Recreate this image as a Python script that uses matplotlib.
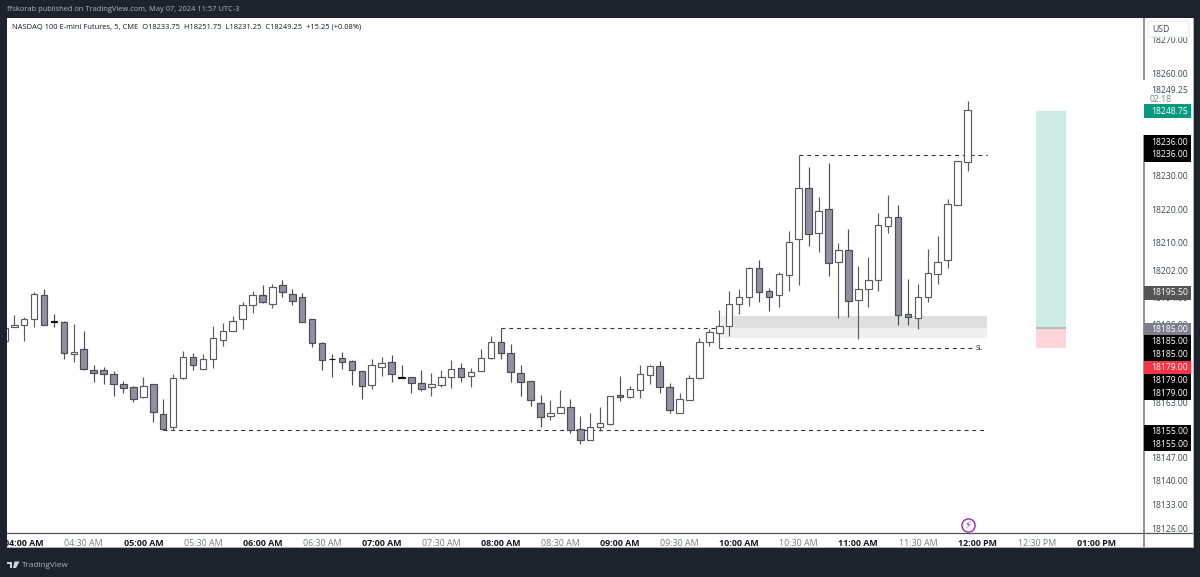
import matplotlib
matplotlib.use('Agg')
import matplotlib.pyplot as plt
from matplotlib.patches import Rectangle, FancyBboxPatch, Polygon

opens = [18181.25, 18185.25, 18186, 18187.75, 18194.75, 18187, 18186.75, 18177.25, 18178.75, 18172.75,
         18172.5, 18171.5, 18168.5, 18167.5, 18164.75, 18168.5, 18159.75, 18156, 18170.25, 18176.5,
         18173, 18175.75, 18181.5, 18184.25, 18187.5, 18191.75, 18194.75, 18192, 18197.5, 18195,
         18194, 18187.5, 18180.5, 18176, 18176.25, 18175.25, 18172.25, 18168.25, 18173.5, 18175,
         18170.5, 18170.5, 18168.75, 18167.5, 18168.25, 18170.5, 18173.25, 18170.75, 18172.25, 18176.25,
         18181, 18177.75, 18171.75, 18169.5, 18163, 18159.25, 18160, 18161.75, 18155.25, 18152,
         18156, 18156.75, 18165.25, 18164.75, 18166.75, 18171.25, 18173.75, 18167.5, 18160, 18163.75,
         18170.25, 18181, 18183.5, 18185.5, 18192, 18194.25, 18202.5, 18195.75, 18194.75, 18200.5,
         18211.25, 18226.25, 18213, 18220, 18204.5, 18208, 18193.25, 18196.5, 18199.25, 18215,
         18217.75, 18189, 18188, 18194, 18200.75, 18205, 18221.25, 18233.75]
highs = [18185, 18188.75, 18188.25, 18195.5, 18196.5, 18189.25, 18187, 18186.25, 18184.25, 18174,
         18173.5, 18172.25, 18169.5, 18168, 18170.5, 18168.5, 18164.25, 18171.5, 18178.25, 18177.75,
         18177.25, 18185.5, 18186.5, 18188.5, 18192.5, 18195.75, 18197.5, 18198, 18199, 18196.5,
         18195.25, 18187.5, 18181, 18177.25, 18178, 18175.5, 18172.25, 18176, 18176.5, 18177,
         18174.25, 18170.5, 18172.5, 18171.75, 18172.5, 18175.5, 18174.75, 18173.25, 18178.75, 18182.75,
         18185, 18180.25, 18174.25, 18169.5, 18165.25, 18163.75, 18166.75, 18164.25, 18159, 18160,
         18161.75, 18165, 18170.75, 18168, 18174, 18174, 18175.25, 18168.75, 18166, 18171.25,
         18182, 18184.75, 18190.25, 18196, 18196.5, 18203, 18205, 18196.75, 18201.5, 18213.5,
         18236, 18232.5, 18223.5, 18233.5, 18210, 18214, 18203.25, 18205.75, 18218.75, 18224.25,
         18221.25, 18199.5, 18198, 18208.25, 18212, 18223, 18234.25, 18251.75]
lows = [18181.25, 18185.25, 18181.25, 18185.25, 18186, 18185.25, 18175.75, 18175, 18172.5, 18169.25,
        18168.5, 18165, 18165.75, 18163.25, 18164.5, 18157.25, 18155, 18155, 18170, 18172.5,
        18173, 18173.25, 18179.75, 18184, 18184.75, 18189.5, 18192.25, 18190.75, 18194.25, 18191.75,
        18186.75, 18179.5, 18172.5, 18170.5, 18173, 18168.25, 18164, 18167, 18171, 18169.25,
        18170.25, 18165.75, 18166.5, 18165, 18167.75, 18167.25, 18169, 18167.5, 18172.25, 18176,
        18175.75, 18169.25, 18165, 18162, 18156, 18158, 18160, 18154, 18150.75, 18152,
        18154.75, 18156.5, 18163.5, 18164.5, 18164.5, 18168.5, 18165.75, 18160, 18160, 18163.75,
        18170, 18179.75, 18179, 18182.5, 18189, 18191.5, 18192.5, 18190, 18191.25, 18196,
        18197.5, 18209, 18207.25, 18200.25, 18188, 18188.25, 18181.75, 18191.25, 18195.75, 18213,
        18186, 18186, 18184.75, 18192.75, 18198, 18202.75, 18221.25, 18231.25]
closes = [18185, 18186, 18187.75, 18195, 18186, 18186.75, 18177.75, 18178, 18173, 18171.75,
          18171.5, 18168.5, 18167.25, 18164, 18168, 18160.25, 18155.25, 18170.25, 18176.5, 18174,
          18176, 18182, 18184.25, 18187, 18191.75, 18194.75, 18192.5, 18197, 18195.5, 18193,
          18186.75, 18180.5, 18175.5, 18175.75, 18175, 18172.5, 18168, 18174.25, 18174.75, 18171.5,
          18170.25, 18168.75, 18167, 18168.5, 18170.5, 18173, 18170.5, 18172, 18176.25, 18181,
          18177.75, 18172, 18169, 18163.75, 18158.75, 18160, 18161.75, 18155, 18152, 18156,
          18157, 18165, 18164.75, 18167, 18171.5, 18173.75, 18167.75, 18160.75, 18164.25, 18170.25,
          18181, 18183.75, 18185.5, 18192, 18194, 18202.5, 18195.5, 18194.25, 18200.75, 18210.25,
          18226.25, 18212.5, 18219.5, 18204.25, 18208, 18193, 18196.5, 18199, 18215.25, 18217.75,
          18188.75, 18188.25, 18194, 18201.25, 18204.5, 18221.5, 18234.25, 18249.25]

# axis labels
time_pos = [2, 8, 14, 20, 26, 32, 38, 44, 50, 56, 62, 68, 74, 80, 86, 92, 98, 104, 110]
time_labels = ['04:00 AM', '04:30 AM', '05:00 AM', '05:30 AM', '06:00 AM', '06:30 AM', '07:00 AM',
               '07:30 AM', '08:00 AM', '08:30 AM', '09:00 AM', '09:30 AM', '10:00 AM', '10:30 AM',
               '11:00 AM', '11:30 AM', '12:00 PM', '12:30 PM', '01:00 PM']
price_ticks = [18270, 18260, 18230, 18220, 18210, 18202, 18194, 18186, 18163, 18147, 18140, 18133, 18126]

# price tags on the scale: text, where it sits, fill
tag_texts = ['18248.75', '18236.00', '18236.00', '18195.50', '18185.00', '18185.00', '18185.00',
             '18179.00', '18179.00', '18179.00', '18155.00', '18155.00']
tag_pos = [18248.8, 18239.7, 18235.9, 18195.3, 18184.6, 18180.9, 18177.1,
           18173.4, 18169.6, 18165.7, 18154.5, 18150.7]
tag_fill = ['#089981', '#000000', '#000000', '#555555', '#7d808c', '#000000', '#000000',
            '#f23645', '#000000', '#000000', '#000000', '#000000']

# levels drawn on the chart
level_low = 18155
level_mid = 18185
level_high = 18236
level_sl = 18179
zone_top = 18188.6
zone_bottom = 18182
target = 18248.75

FS = 6.2
DARK = '#1e222d'
W, H = 1200, 577

plt.rcParams['font.family'] = ['Open Sans', 'DejaVu Sans']

fig = plt.figure(figsize=(W / 100, H / 100), dpi=100, facecolor='white')
ax = fig.add_axes([7 / W, 1 - 533 / H, 1137 / W, 515 / H])
ax.set_xlim(0.27, 114.77)
ax.set_ylim(18124.7, 18276.18)


def fx(x):
    return x / W


def fy(y):
    return 1 - y / H


# grey zone
ax.add_patch(Rectangle((72.2, zone_bottom), 98.96 - 72.2, zone_top - zone_bottom, fc='#efefef', ec='none', zorder=1))
ax.add_patch(Rectangle((73.45, level_mid), 98.96 - 73.45, zone_top - level_mid, fc='#e0dfe0', ec='none', zorder=1.1))

# dashed levels
dash = dict(color='#333333', lw=0.8, ls=(0, (3.5, 3.5)), zorder=2)
ax.plot([16, 98.96], [level_low, level_low], **dash)
ax.plot([50, 72], [level_mid, level_mid], **dash)
ax.plot([80, 98.96], [level_high, level_high], **dash)
ax.plot([72, 97.4], [level_sl, level_sl], **dash)
ax.text(98.2, level_sl, 'SL', fontsize=5, color='#333333', ha='center', va='center')

# long position box
ax.add_patch(Rectangle((103.9, level_mid), 3.05, target - level_mid, fc='#cfebe6', ec='none', zorder=1))
ax.add_patch(Rectangle((103.9, level_sl), 3.05, level_mid - level_sl, fc='#fdd5da', ec='none', zorder=1))
ax.plot([103.9, 106.95], [level_mid, level_mid], color='#a9b5b5', lw=1.2, zorder=1.5, solid_capstyle='butt')

# candles
for i, (o, h, l, c) in enumerate(zip(opens, highs, lows, closes)):
    up = c >= o
    edge = '#5c5c5c' if up else '#4c4c54'
    ax.plot([i, i], [l, h], color=edge, lw=0.85, zorder=3, solid_capstyle='butt')
    top, bottom = max(o, c), min(o, c)
    doji = top - bottom < 0.5
    ax.add_patch(Rectangle((i - 0.33, bottom), 0.66, top - bottom,
                           fc='white' if up else '#8f929e', ec='#111111' if doji else edge,
                           lw=0.85, zorder=3.1))

# bolt marker
ax.plot([97], [18127], 'o', ms=9.5, mfc='white', mec='#9c27b0', mew=1, zorder=4)
ax.text(97, 18127, '\u26a1', fontsize=7, color='#9c27b0', ha='center', va='center',
        family='DejaVu Sans', zorder=5)

# axes
for side in ['top', 'left']:
    ax.spines[side].set_visible(False)
ax.spines['right'].set_color('#808080')
ax.spines['right'].set_linewidth(1.2)
ax.spines['bottom'].set_color('#555555')
ax.spines['bottom'].set_linewidth(0.9)
ax.yaxis.tick_right()
ax.set_yticks(price_ticks)
ax.set_yticklabels(['%.2f' % p for p in price_ticks], fontsize=FS, color='#434651')
ax.tick_params(axis='y', length=0, pad=5)
ax.set_xticks(time_pos)
ax.set_xticklabels(time_labels, fontsize=6.4, color='#787b86')
for lab in ax.get_xticklabels():
    if ':00' in lab.get_text():
        lab.set_fontweight('bold')
        lab.set_color('#131722')
ax.tick_params(axis='x', length=0, pad=4)

# scale pane lines run on past the chart
ax.plot([1, 1 + 49 / 1137], [0, 0], transform=ax.transAxes, color='#555555', lw=0.9, clip_on=False, zorder=6)
ax.plot([1, 1], [0, -14 / 515], transform=ax.transAxes, color='#808080', lw=1.2, clip_on=False, zorder=6)

# price tags
trans = ax.get_yaxis_transform()
tag_w = 47 / 1137
tag_h = 13.2 / 3.4

# gap in the scale line around the live price
ax.add_patch(Rectangle((0.9995, 18241.8), tag_w + 0.0005, 16.2, transform=trans, fc='white', ec='none',
                       clip_on=False, zorder=5.5))
ax.text(1 + 7 / 1137, 18255, '18249.25', transform=trans, fontsize=FS, color='#434651', va='center', zorder=7)
ax.text(1 + 6 / 1137, 18252.3, '02:18', transform=trans, fontsize=FS, color='#787b86', va='center', zorder=7)

for text, pos, fill in zip(tag_texts, tag_pos, tag_fill):
    ax.add_patch(Rectangle((1, pos - tag_h / 2), tag_w, tag_h, transform=trans, fc=fill, ec='none',
                           clip_on=False, zorder=7))
    ax.text(1 + 7 / 1137, pos, text, transform=trans, fontsize=FS, color='white', va='center', zorder=8)

# USD box
usd = FancyBboxPatch((fx(1148), fy(37)), 41 / W, 16 / H, boxstyle='round,pad=0,rounding_size=0.002',
                     transform=fig.transFigure, fc='white', ec='#e6e8ee', lw=0.7, zorder=8)
fig.add_artist(usd)
fig.text(fx(1152), fy(29), 'USD', fontsize=FS, color='#434651', va='center', zorder=9)

# frame around the chart
for x, y, w, h in [(0, 0, W, 17.5), (0, 547, W, 30), (0, 0, 6.5, H), (1193, 0, 7, H)]:
    fig.add_artist(Rectangle((fx(x), fy(y + h)), w / W, h / H, transform=fig.transFigure,
                             fc=DARK, ec='none', zorder=10))
fig.add_artist(plt.Line2D([fx(7), fx(1193)], [fy(547), fy(547)], color='#b2b5be', lw=0.7, zorder=11))
fig.add_artist(plt.Line2D([fx(1193), fx(1193)], [fy(18), fy(547)], color='#b2b5be', lw=0.7, zorder=11))

# header and titles
fig.text(fx(7), fy(9.5), 'ffskorab published on TradingView.com, May 07, 2024 11:57 UTC-3',
         fontsize=5.4, color='#b2b5be', va='center', zorder=12)
fig.text(fx(12), fy(27.5),
         'NASDAQ 100 E-mini Futures, 5, CME  O18233.75  H18251.75  L18231.25  C18249.25  +15.25 (+0.08%)',
         fontsize=5.4, color='#131722', va='center', zorder=12)

# logo
logo_color = '#d1d4dc'
fig.add_artist(Polygon([(fx(7), fy(561.5)), (fx(12), fy(561.5)), (fx(12), fy(568)), (fx(10), fy(568)),
                        (fx(10), fy(563.5)), (fx(7), fy(563.5))], transform=fig.transFigure,
                       fc=logo_color, ec='none', zorder=12))
fig.add_artist(Polygon([(fx(14.5), fy(561.5)), (fx(19.5), fy(561.5)), (fx(16), fy(568)), (fx(13), fy(568))],
                       transform=fig.transFigure, fc=logo_color, ec='none', zorder=12))
fig.text(fx(22), fy(565.5), 'TradingView', fontsize=5.9, color='#b2b5be', va='center', zorder=12)

fig.savefig('out.png', dpi=100)
